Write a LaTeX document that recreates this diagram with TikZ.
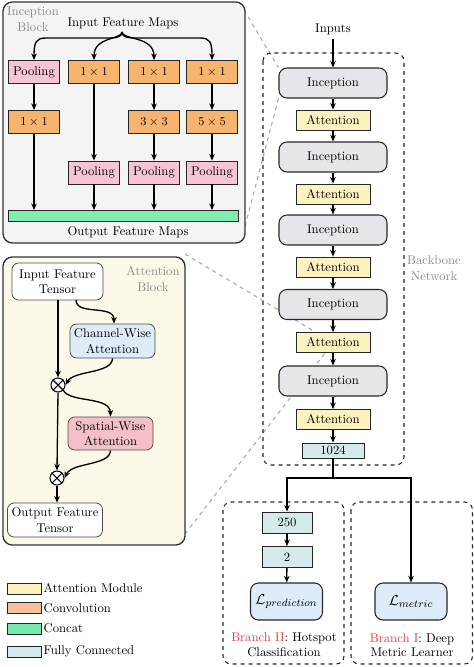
\documentclass[tikz,border=0pt]{standalone}
\usetikzlibrary{arrows.meta,backgrounds}
\definecolor{panelgray}{HTML}{F4F4F4}
\definecolor{panelyel}{HTML}{FDF9E8}
\definecolor{poolc}{HTML}{F7C4D6}
\definecolor{convc}{HTML}{F6B46E}
\definecolor{concc}{HTML}{7FEDAF}
\definecolor{attc}{HTML}{FCF2C0}
\definecolor{fcc}{HTML}{D4EBEC}
\definecolor{incc}{HTML}{E6E6EA}
\definecolor{chanc}{HTML}{DDECF8}
\definecolor{spatc}{HTML}{F4BFC6}
\definecolor{lossc}{HTML}{DDECF8}
\definecolor{labgray}{HTML}{8A8A8A}
\definecolor{branchred}{HTML}{E8403A}
\definecolor{zoomgray}{HTML}{A8A8A8}
\definecolor{legconv}{HTML}{F9C09E}
\definecolor{legconc}{HTML}{72E9A9}
\begin{document}
\begin{tikzpicture}[x=0.75pt,y=-0.75pt,
  font=\fontsize{9.5}{11}\selectfont,
  >={Stealth[length=5pt,width=4.2pt]},
  arr/.style={->,line width=1pt},
  sbox/.style={draw=black!85,line width=0.6pt,inner sep=0pt,minimum width=38.25pt,minimum height=17.25pt},
  convbox/.style={sbox,fill=convc},
  poolbox/.style={sbox,fill=poolc},
  incbox/.style={draw=black!85,line width=0.8pt,fill=incc,rounded corners=6pt,minimum width=81pt,minimum height=22.5pt,inner sep=0pt},
  attbox/.style={draw=black!85,line width=0.6pt,fill=attc,minimum width=55.5pt,minimum height=15pt,inner sep=0pt},
  fcbox/.style={draw=black!85,line width=0.6pt,fill=fcc,inner sep=0pt},
  lossbox/.style={draw=black!85,line width=0.8pt,fill=lossc,rounded corners=6pt,minimum width=54pt,minimum height=27.75pt,inner sep=0pt,font=\fontsize{11}{13}\selectfont},
  tensorbox/.style={draw=black!70,line width=0.6pt,rounded corners=5pt,align=center,inner sep=0pt,font=\fontsize{9.5}{11.5}\selectfont},
  swatch/.style={draw=black!85,line width=0.6pt,minimum width=25.5pt,minimum height=8.25pt,inner sep=0pt},
  graylab/.style={text=labgray,align=center,font=\fontsize{9.5}{12}\selectfont},
  otim/.style={circle,draw=black,line width=0.8pt,fill=white,minimum size=10.5pt,inner sep=0pt},
  dashbox/.style={draw=black!85,dashed,line width=0.8pt,rounded corners=6pt},
  zoomline/.style={draw=zoomgray,dashed,line width=0.8pt}
]
\useasboundingbox (0,0) rectangle (474,667);

% ---------------- Inception block panel ----------------
\draw[fill=panelgray,draw=black!80,line width=1pt,rounded corners=7pt] (3,2) rectangle (245,243);
\node[graylab] at (33,19) {Inception\\Block};
\node (ifm) at (123,23) {Input Feature Maps};
\coordinate (br) at (122,32);

\node[poolbox] (p1) at (34,72) {Pooling};
\node[convbox] (ca) at (94,72) {$1\times1$};
\node[convbox] (cb) at (154,72) {$1\times1$};
\node[convbox] (cc) at (212,72) {$1\times1$};
\node[convbox] (cd) at (34,122) {$1\times1$};
\node[convbox] (c3) at (154,122) {$3\times3$};
\node[convbox] (c5) at (212,122) {$5\times5$};
\node[poolbox] (p2) at (94,172.5) {Pooling};
\node[poolbox] (p3) at (154,172.5) {Pooling};
\node[poolbox] (p4) at (212,172.5) {Pooling};
\node[draw=black!85,line width=0.6pt,fill=concc,minimum width=172.5pt,minimum height=8.25pt,inner sep=0pt] (conc) at (123,216) {};
\node (ofm) at (128,232) {Output Feature Maps};

\draw[arr] (br) .. controls (122,38) and (115,38) .. (105,38) -- (46,38) .. controls (36,38) and (34,42) .. (p1.north);
\draw[arr] (br) .. controls (122,40) and (94,36) .. (ca.north);
\draw[arr] (br) .. controls (122,40) and (154,36) .. (cb.north);
\draw[arr] (br) .. controls (122,38) and (129,38) .. (139,38) -- (200,38) .. controls (210,38) and (212,42) .. (cc.north);
\draw[arr] (p1) -- (cd);
\draw[arr] (cb) -- (c3);
\draw[arr] (cc) -- (c5);
\draw[arr] (ca) -- (p2);
\draw[arr] (c3) -- (p3);
\draw[arr] (c5) -- (p4);
\draw[arr] (cd.south) -- (cd.south |- conc.north);
\draw[arr] (p2.south) -- (p2.south |- conc.north);
\draw[arr] (p3.south) -- (p3.south |- conc.north);
\draw[arr] (p4.south) -- (p4.south |- conc.north);

% ---------------- Attention block panel ----------------
\draw[fill=panelyel,draw=black!80,line width=1pt,rounded corners=7pt] (3,257) rectangle (185,545);
\node[graylab] at (153,279) {Attention\\Block};
\node[tensorbox,fill=white,minimum width=68.25pt,minimum height=27.75pt] (ift) at (57.5,281.5) {Input Feature\\Tensor};
\node[tensorbox,fill=chanc,minimum width=63.75pt,minimum height=25.5pt] (cwa) at (112.5,341) {Channel-Wise\\Attention};
\node[otim] (o1) at (58,385) {};
\node[tensorbox,fill=spatc,minimum width=63.75pt,minimum height=24.75pt] (swa) at (110.5,433.5) {Spatial-Wise\\Attention};
\node[otim] (o2) at (57,478) {};
\node[tensorbox,fill=white,minimum width=71.25pt,minimum height=25.5pt] (oft) at (55,520) {Output Feature\\Tensor};
\foreach \o in {o1,o2}{
  \draw[line width=0.8pt] (\o.north west) -- (\o.south east) (\o.north east) -- (\o.south west);
}
\draw[arr] (ift.south -| o1) -- (o1.north);
\draw[arr] (76,300) .. controls (76,316) and (114,304) .. (cwa.north -| 114,0);
\draw[arr] (cwa.south) .. controls (112,374) and (74,370) .. (o1.east);
\draw[arr] (o1.south east) .. controls (70,403) and (110,396) .. (swa.north);
\draw[arr] (o1.south) -- (o2.north);
\draw[arr] (swa.south) .. controls (110,466) and (72,462) .. (o2.east);
\draw[arr] (o2.south) -- (o2.south |- oft.north);

% ---------------- Backbone ----------------
\draw[dashbox] (263,53) rectangle (404,465);
\node[graylab] at (434,268) {Backbone\\Network};
\node (inp) at (333,29) {Inputs};
\node[incbox] (I1) at (333,83) {Inception};
\node[attbox] (A1) at (333,120) {Attention};
\node[incbox] (I2) at (333,157) {Inception};
\node[attbox] (A2) at (333,194) {Attention};
\node[incbox] (I3) at (333,230) {Inception};
\node[attbox] (A3) at (333,267) {Attention};
\node[incbox] (I4) at (333,304.5) {Inception};
\node[attbox] (A4) at (333,342.5) {Attention};
\node[incbox] (I5) at (333,381) {Inception};
\node[attbox] (A5) at (333,419.5) {Attention};
\node[fcbox,minimum width=46.5pt,minimum height=11.25pt] (fc) at (333,450.5) {1024};
\draw[arr] (inp.south) -- (I1.north);
\draw[arr] (I1) -- (A1);
\draw[arr] (A1) -- (I2);
\draw[arr] (I2) -- (A2);
\draw[arr] (A2) -- (I3);
\draw[arr] (I3) -- (A3);
\draw[arr] (A3) -- (I4);
\draw[arr] (I4) -- (A4);
\draw[arr] (A4) -- (I5);
\draw[arr] (I5) -- (A5);
\draw[arr] (A5) -- (fc);

% ---------------- Branches ----------------
\draw[dashbox] (223,502) rectangle (344,664);
\draw[dashbox] (351,502) rectangle (472.5,664);
\node[fcbox,minimum width=37.5pt,minimum height=15.75pt] (f250) at (287,522.5) {250};
\node[fcbox,minimum width=37.5pt,minimum height=15.75pt] (f2) at (287,557) {2};
\node[lossbox] (lp) at (286.5,601.5) {$\mathcal{L}_{prediction}$};
\node[lossbox] (lm) at (411,601.5) {$\mathcal{L}_{metric}$};
\coordinate (split) at (333,478);
\draw[line width=1pt] (fc.south) -- (split);
\draw[arr] (split) -| (f250.north);
\draw[arr] (split) -| (lm.north);
\draw[arr] (f250) -- (f2);
\draw[arr] (f2) -- (lp);
\node[align=center] (b2) at (284,645) {\textcolor{branchred}{Branch II}: Hotspot\\Classification};
\node[align=center] (b1) at (412,645) {\textcolor{branchred}{Branch I}: Deep\\Metric Learner};

% ---------------- Legend ----------------
\node[swatch,fill=attc] (l1) at (24,588.5) {};
\node[swatch,fill=legconv] (l2) at (24,608) {};
\node[swatch,fill=legconc] (l3) at (24,628.5) {};
\node[swatch,fill=fcc] (l4) at (24,651.5) {};
\node[anchor=west,inner sep=1.5pt] at (l1.east) {Attention Module};
\node[anchor=west,inner sep=1.5pt] at (l2.east) {Convolution};
\node[anchor=west,inner sep=1.5pt] at (l3.east) {Concat};
\node[anchor=west,inner sep=1.5pt] at (l4.east) {Fully Connected};

% ---------------- Zoom lines ----------------
\begin{scope}[on background layer]
\draw[zoomline] (244,10) -- (I1.north west);
\draw[zoomline] (243,234) -- (I1.south west);
\draw[zoomline] (185,254) -- (A4.center);
\draw[zoomline] (185,534) -- (A4.center);
\end{scope}
\end{tikzpicture}
\end{document}
